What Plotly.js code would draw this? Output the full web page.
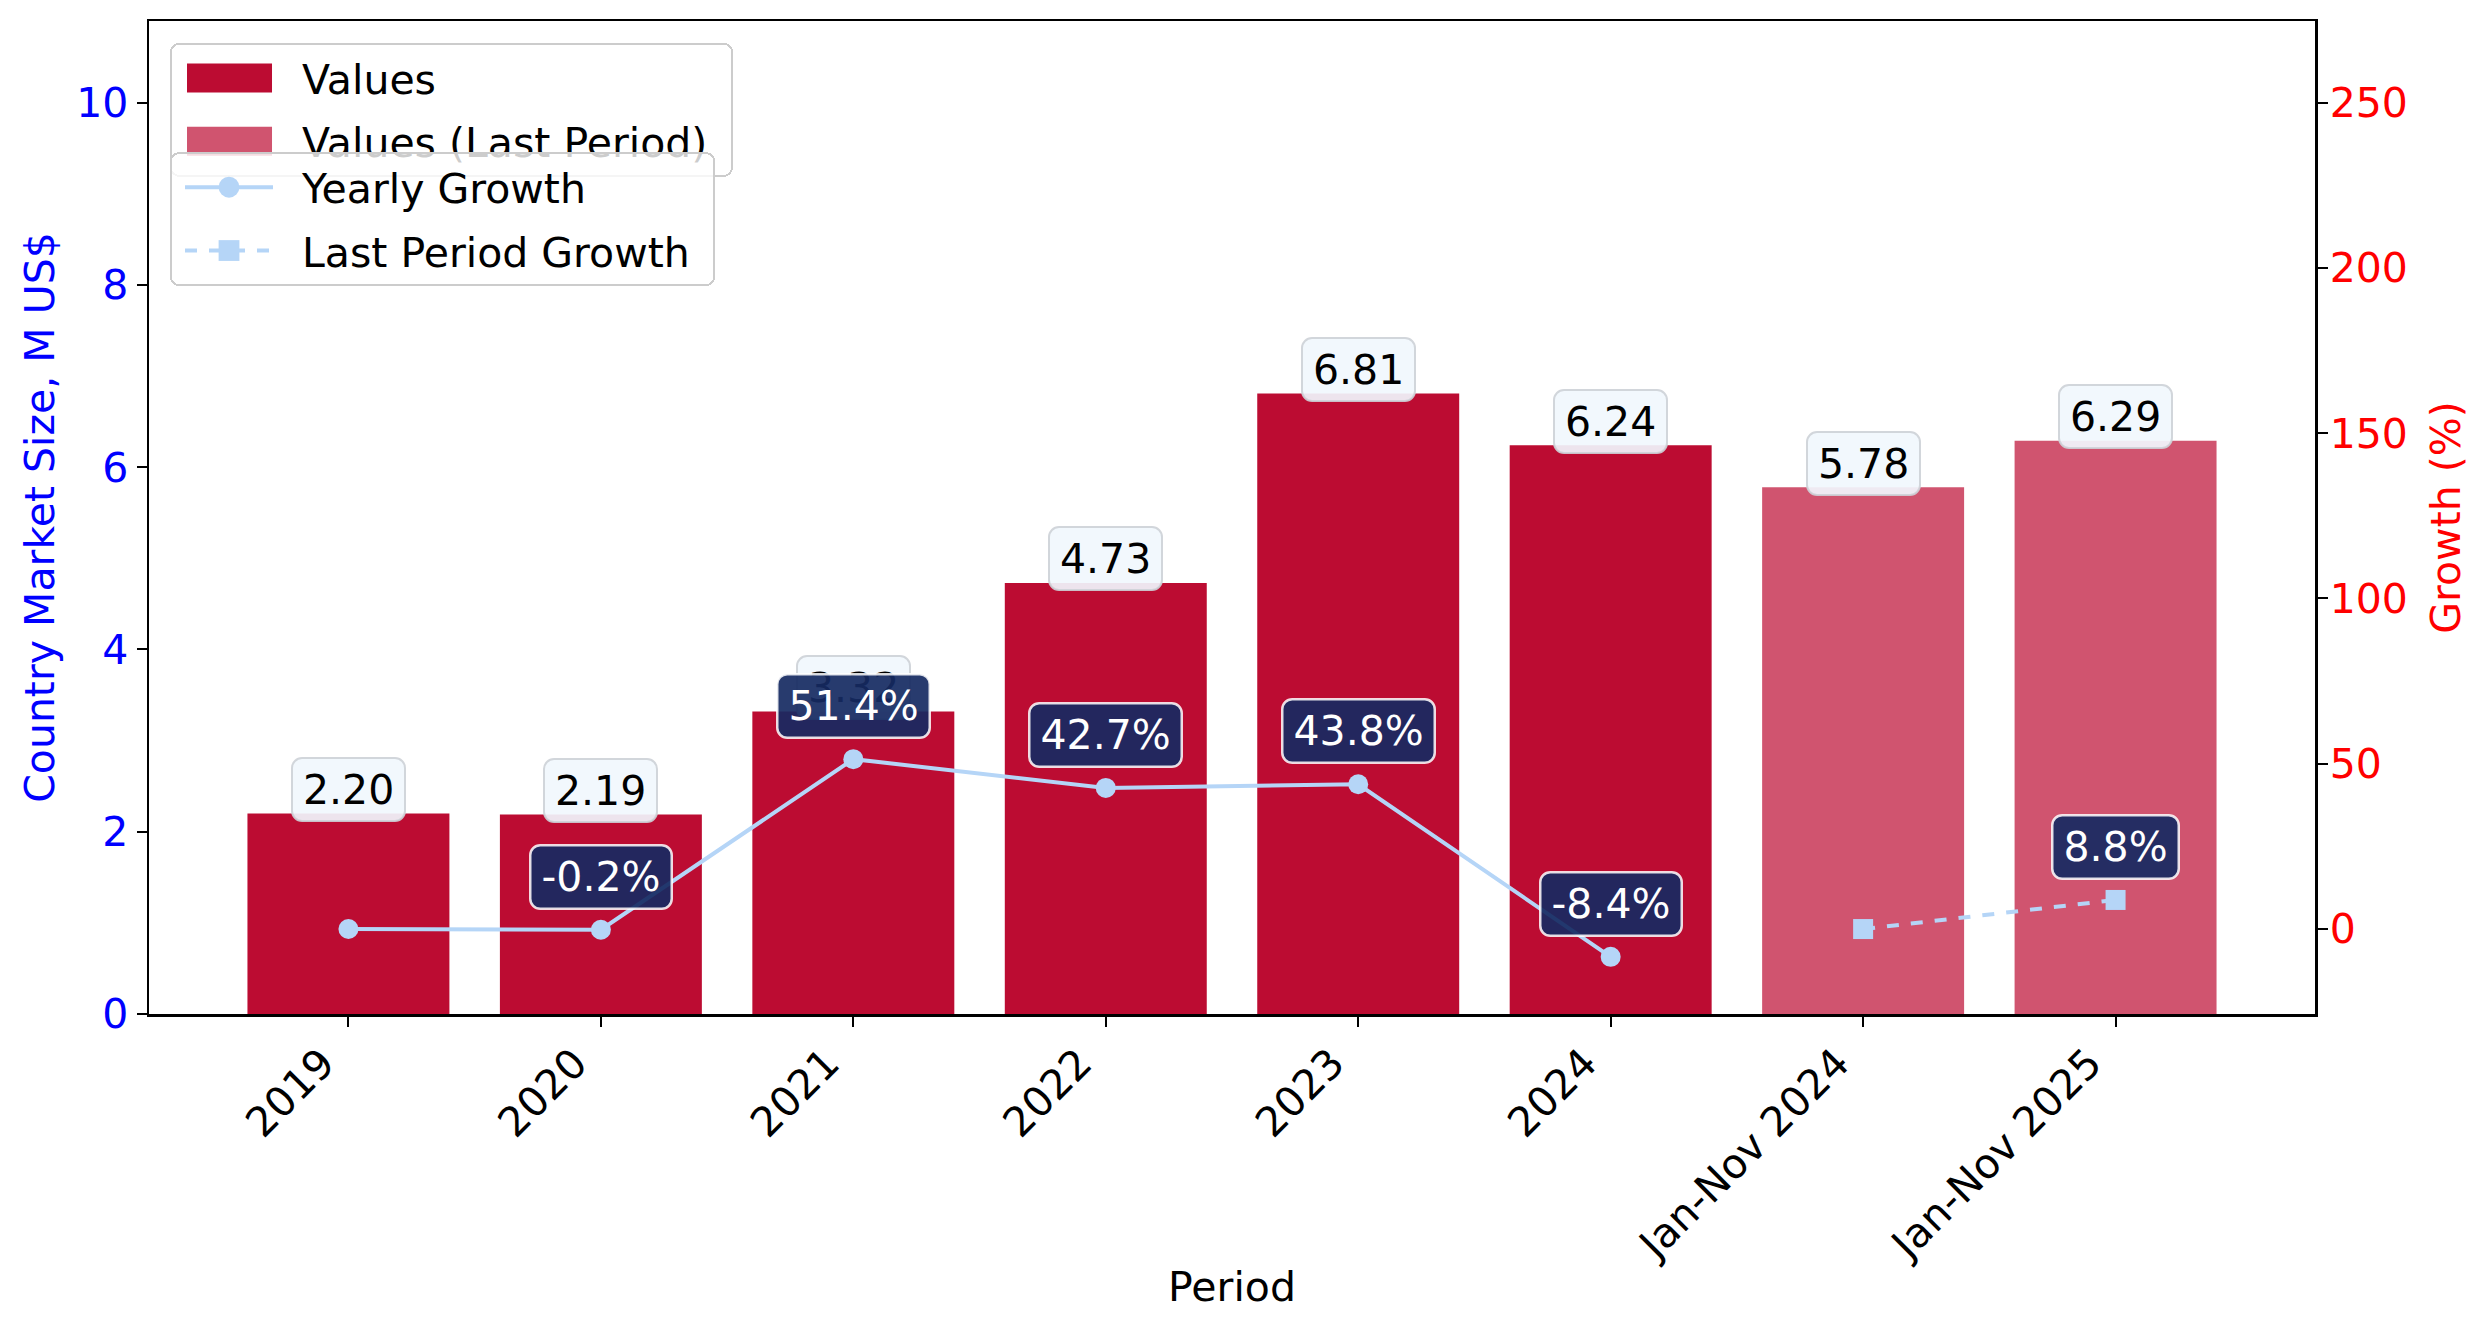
<!DOCTYPE html>
<html>
<head>
<meta charset="utf-8">
<script src="https://cdn.plot.ly/plotly-3.0.1.min.js"></script>
<style>
  html, body { margin: 0; padding: 0; background: #ffffff; }
  #chart { width: 2491px; height: 1338px; }
</style>
</head>
<body>
<div id="chart"></div>
<script>
// ---- Data ----
const categories = ["2019", "2020", "2021", "2022", "2023", "2024", "Jan-Nov 2024", "Jan-Nov 2025"];
const yearlyCategories = ["2019", "2020", "2021", "2022", "2023", "2024"];
const lastPeriodCategories = ["Jan-Nov 2024", "Jan-Nov 2025"];
const yearlyValues = [2.20, 2.19, 3.32, 4.73, 6.81, 6.24];
const lastPeriodValues = [5.78, 6.29];
const yearlyGrowth = [0, -0.2, 51.4, 42.7, 43.8, -8.4];
const lastPeriodGrowth = [0, 8.8];
const yearlyGrowthLabelled = [false, true, true, true, true, true];
const lastPeriodGrowthLabelled = [false, true];
const leftTicks = [0, 2, 4, 6, 8, 10];
const rightTicks = [0, 50, 100, 150, 200, 250];

// ---- Styles ----
const FONT = "DejaVu Sans, Liberation Sans, sans-serif";
const FS = 41;
const barColor = "#BC0C32";
const barColorLight = "rgba(188,12,50,0.7)";
const lineColor = "#B5D5F7";

const traces = [
  {
    type: "bar", name: "Values", x: yearlyCategories, y: yearlyValues,
    width: 0.8, marker: { color: barColor }, legend: "legend", legendgroup: "a", yaxis: "y"
  },
  {
    type: "bar", name: "Values (Last Period)", x: lastPeriodCategories, y: lastPeriodValues,
    width: 0.8, marker: { color: barColorLight }, legend: "legend", legendgroup: "b", yaxis: "y"
  },
  {
    type: "scatter", mode: "lines+markers", name: "Yearly Growth",
    x: yearlyCategories, y: yearlyGrowth, yaxis: "y2", legend: "legend2", legendgroup: "c",
    line: { color: lineColor, width: 4 },
    marker: { color: lineColor, size: 20, symbol: "circle" }
  },
  {
    type: "scatter", mode: "lines+markers", name: "Last Period Growth",
    x: lastPeriodCategories, y: lastPeriodGrowth, yaxis: "y2", legend: "legend2", legendgroup: "d",
    line: { color: lineColor, width: 4, dash: "dash" },
    marker: { color: lineColor, size: 20, symbol: "square" }
  }
];

const annotations = [];
const valueLabel = (cat, v) => ({
  x: categories.indexOf(cat), y: v, xref: "x", yref: "y", text: v.toFixed(2), showarrow: false,
  yanchor: "middle", yshift: 24, height: 41,
  font: { family: FONT, size: FS, color: "#000000" },
  bgcolor: "rgba(241,247,253,0.92)", bordercolor: "rgba(205,210,215,0.9)",
  borderwidth: 2, borderpad: 10
});
yearlyCategories.forEach((c, i) => annotations.push(valueLabel(c, yearlyValues[i])));
lastPeriodCategories.forEach((c, i) => annotations.push(valueLabel(c, lastPeriodValues[i])));

const growthLabel = (cat, g) => ({
  x: categories.indexOf(cat), y: g, xref: "x", yref: "y2", text: g.toFixed(1) + "%", showarrow: false,
  yanchor: "middle", yshift: 53, height: 41,
  font: { family: FONT, size: FS, color: "#ffffff" },
  bgcolor: "rgba(22,42,98,0.92)", bordercolor: "rgba(255,255,255,0.85)",
  borderwidth: 2.5, borderpad: 10
});
yearlyCategories.forEach((c, i) => { if (yearlyGrowthLabelled[i]) annotations.push(growthLabel(c, yearlyGrowth[i])); });
lastPeriodCategories.forEach((c, i) => { if (lastPeriodGrowthLabelled[i]) annotations.push(growthLabel(c, lastPeriodGrowth[i])); });

const legendStyle = (ytop) => ({
  x: 0.0097, y: ytop, xanchor: "left", yanchor: "top",
  bgcolor: "rgba(255,255,255,0.8)", bordercolor: "#CCCCCC", borderwidth: 2,
  font: { family: FONT, size: FS, color: "#000000" },
  itemwidth: 120, traceorder: "grouped", tracegroupgap: 7
});

const layout = {
  width: 2491, height: 1338,
  paper_bgcolor: "#ffffff", plot_bgcolor: "#ffffff",
  margin: { l: 149, r: 176, t: 21, b: 324, autoexpand: false },
  font: { family: FONT, size: FS, color: "#000000" },
  barmode: "overlay",
  showlegend: true,
  xaxis: {
    type: "category", categoryorder: "array", categoryarray: categories,
    range: [-0.79, 7.79],
    showline: true, mirror: true, linecolor: "#000000", linewidth: 2.5,
    ticks: "outside", ticklen: 10, tickwidth: 2, tickcolor: "#000000",
    tickangle: -45, ticklabelshift: -26, ticklabelstandoff: -4,
    tickfont: { family: FONT, size: FS, color: "#000000" },
    showgrid: false, zeroline: false, automargin: false,
    title: { text: "Period", font: { family: FONT, size: FS, color: "#000000" }, standoff: 4 }
  },
  yaxis: {
    range: [0, 10.896],
    tickvals: leftTicks,
    showline: true, linecolor: "#000000", linewidth: 2.5,
    ticks: "outside", ticklen: 10, tickwidth: 2, tickcolor: "#000000",
    ticklabelstandoff: 0,
    tickfont: { family: FONT, size: FS, color: "#0000FF" },
    showgrid: false, zeroline: false, automargin: false,
    title: { text: "Country Market Size, M US$", font: { family: FONT, size: FS, color: "#0000FF" }, standoff: 9 }
  },
  yaxis2: {
    overlaying: "y", side: "right",
    range: [-25.7, 274.7],
    tickvals: rightTicks,
    showline: true, linecolor: "#000000", linewidth: 2.5,
    ticks: "outside", ticklen: 10, tickwidth: 2, tickcolor: "#000000",
    ticklabelstandoff: -6,
    tickfont: { family: FONT, size: FS, color: "#FF0000" },
    showgrid: false, zeroline: false, automargin: false,
    title: { text: "Growth (%)", font: { family: FONT, size: FS, color: "#FF0000" }, standoff: 25 }
  },
  legend: legendStyle(0.978),
  legend2: legendStyle(0.868),
  annotations: annotations
};

Plotly.newPlot("chart", traces, layout, { displayModeBar: false, staticPlot: true }).then((gd) => {
  // matplotlib-like legend handles
  gd.querySelectorAll(".infolayer g.traces").forEach((g) => {
    const d = g.__data__;
    if (!d || !d[0] || !d[0].trace) return;
    const t = d[0].trace;
    if (t.type === "bar") {
      g.querySelectorAll(".legendpoints path").forEach((p) => p.setAttribute("d", "M-50,-14.5h85v29h-85Z"));
    } else {
      g.querySelectorAll(".legendlines path").forEach((p) => p.setAttribute("d", "M13,0h88"));
      g.querySelectorAll(".legendpoints path").forEach((p) => p.setAttribute("transform", "translate(57,0) scale(1.3)"));
    }
  });
  // wider, rounded legend frames
  gd.querySelectorAll(".infolayer > g").forEach((lg) => {
    const cls = lg.getAttribute("class") || "";
    if (!/^legend/.test(cls)) return;
    lg.querySelectorAll(":scope > rect.bg").forEach((r) => {
      const w = parseFloat(r.getAttribute("width"));
      if (!isNaN(w)) r.setAttribute("width", w + 18);
      r.setAttribute("rx", 8); r.setAttribute("ry", 8);
    });
  });
  // rounded label boxes
  gd.querySelectorAll(".annotation rect.bg").forEach((r) => { r.setAttribute("rx", 10); r.setAttribute("ry", 10); });
});
</script>
</body>
</html>
